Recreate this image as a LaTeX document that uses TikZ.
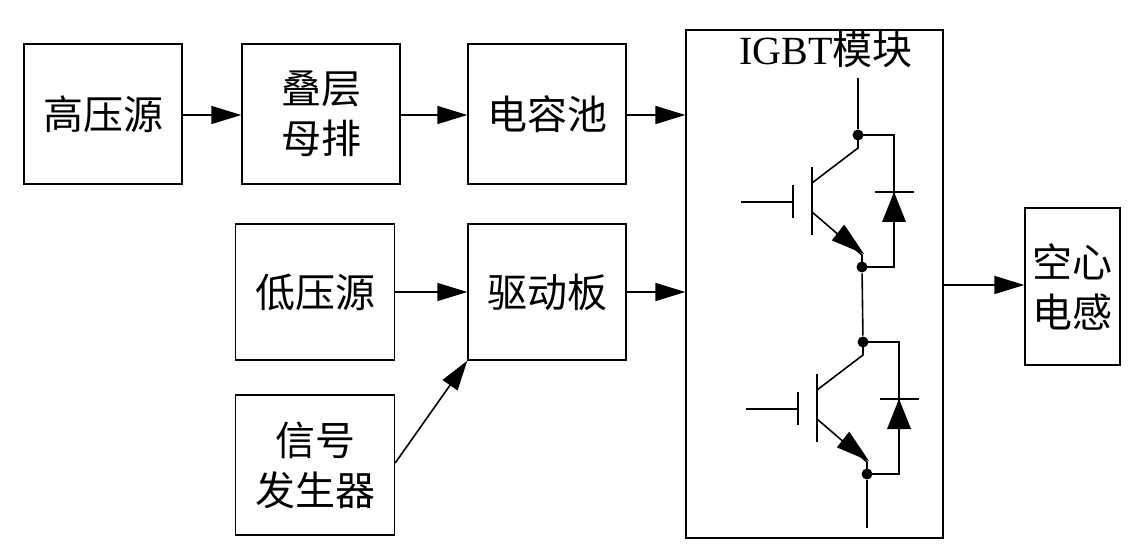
\documentclass[tikz,border=0pt]{standalone}
\usepackage{fontspec}
\setmainfont{Liberation Serif}
\newfontfamily\cjk{Noto Sans CJK SC}[Scale=1]
\usetikzlibrary{arrows.meta}
\begin{document}
\begin{tikzpicture}[x=1pt,y=-1pt,line width=1.6pt,
  blk/.style={draw,line width=1.4pt,font=\cjk\fontsize{40}{50}\selectfont,align=center,inner sep=0pt},
  arr/.style={-{Triangle[length=30pt,width=18pt]}},
  dot/.style={circle,fill,inner sep=0pt,minimum size=11pt}]
\useasboundingbox (0,0) rectangle (1143,553);
\node[blk,minimum width=158pt,minimum height=140pt] (hv) at (103,114) {高压源};
\node[blk,minimum width=158pt,minimum height=140pt] (bus) at (321,114) {叠层\\母排};
\node[blk,minimum width=158pt,minimum height=140pt] (cap) at (547,114) {电容池};
\node[blk,minimum width=159pt,minimum height=136pt] (lv) at (315,292) {低压源};
\node[blk,minimum width=158pt,minimum height=136pt] (drv) at (547,292) {驱动板};
\node[blk,minimum width=159pt,minimum height=140pt] (sig) at (315,465) {信号\\发生器};
\node[blk,minimum width=257pt,minimum height=508pt] (igbt) at (814.5,284) {};
\node[font=\fontsize{40}{44}\selectfont,anchor=north,inner sep=0pt] (lab) at (826,30) {IGBT{\cjk 模块}};
\node[blk,minimum width=95pt,minimum height=157pt] (ind) at (1072.5,286.5) {空心\\电感};
\draw[arr] (hv.east|-0,115) -- (bus.west|-0,115);
\draw[arr] (bus.east|-0,115) -- (cap.west|-0,115);
\draw[arr] (cap.east|-0,115) -- (igbt.west|-0,115);
\draw[arr] (lv.east|-0,292) -- (drv.west|-0,292);
\draw[arr] (drv.east|-0,292) -- (igbt.west|-0,292);
\draw[arr] (sig.east|-0,463) -- (drv.south west);
\draw[arr] (igbt.east|-0,285) -- (ind.west|-0,285);
\foreach \dx/\dy/\n in {0/0/a,5/207/b}{
\begin{scope}[shift={(\dx,\dy)}]
\node[dot] (c\n) at (858,135) {};
\node[dot] (e\n) at (862,267) {};
\draw (858,135) -- (858,148) -- (812,183);
\draw (812,167) -- (812,235);
\draw (793,185) -- (793,218);
\draw (741,202) -- (793,202);
\draw (812,212) -- (862,255) -- (862,267);
\fill (864,254) -- (831.8,240.4) -- (844.2,224.6) -- cycle;
\draw (858,135) -- (894,135) -- (894,267) -- (862,267);
\draw (875,192) -- (914,192);
\fill (894,192) -- (882,222) -- (906,222) -- cycle;
\end{scope}}
\draw (858,78) -- (ca);
\draw (ea) -- (cb);
\draw (eb) -- (867,528);
\end{tikzpicture}
\end{document}
